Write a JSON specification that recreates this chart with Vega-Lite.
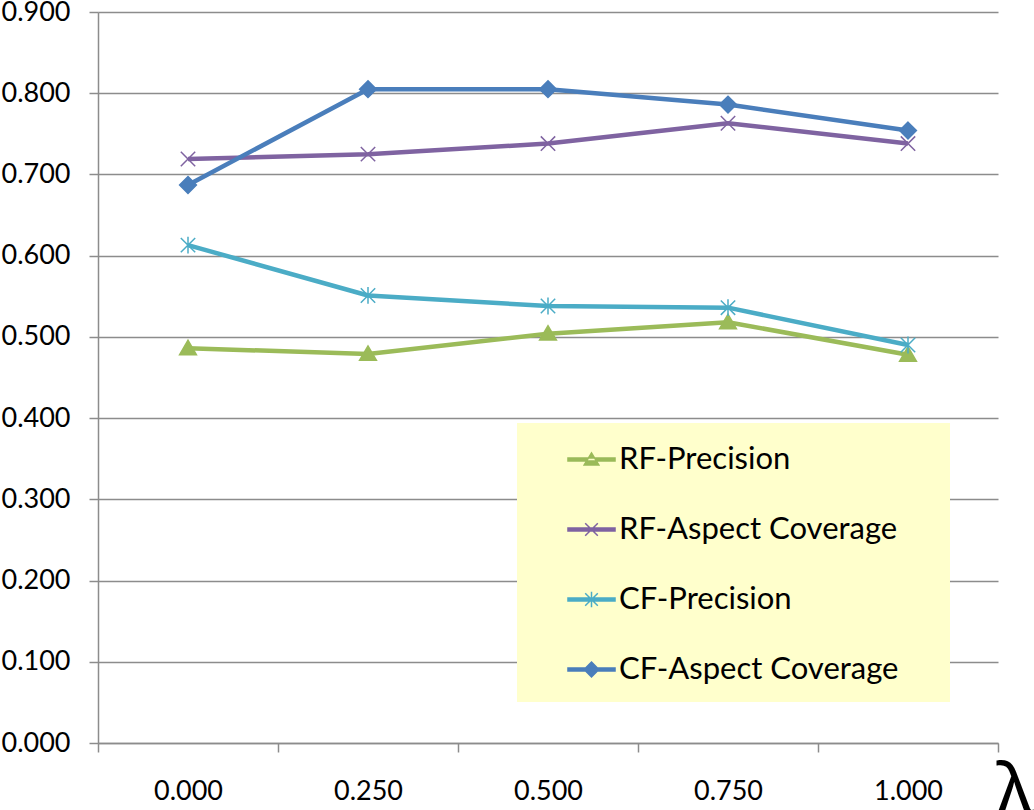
{
  "$schema": "https://vega.github.io/schema/vega-lite/v6.json",
  "width": 900,
  "height": 731,
  "autosize": {"type": "none"},
  "padding": {"left": 98, "top": 12, "right": 36, "bottom": 67},
  "background": "white",
  "config": {
    "view": {"stroke": null},
    "font": "Lato",
    "legend": {
      "title": null,
      "orient": "none",
      "legendX": 478,
      "legendY": 432,
      "direction": "vertical",
      "padding": 0,
      "labelFont": "Lato",
      "labelFontSize": 31,
      "labelColor": "black",
      "labelOffset": 12,
      "labelLimit": 400,
      "rowPadding": 38,
      "symbolSize": 196,
      "symbolStrokeWidth": 1.5,
      "symbolOpacity": 1
    }
  },
  "resolve": {"legend": {"color": "independent", "fill": "independent", "stroke": "independent", "shape": "independent"}},
  "data": {
    "values": [
      {"lambda": "0.000", "series": "RF-Precision", "value": 0.486},
      {"lambda": "0.250", "series": "RF-Precision", "value": 0.479},
      {"lambda": "0.500", "series": "RF-Precision", "value": 0.504},
      {"lambda": "0.750", "series": "RF-Precision", "value": 0.518},
      {"lambda": "1.000", "series": "RF-Precision", "value": 0.478},
      {"lambda": "0.000", "series": "RF-Aspect Coverage", "value": 0.719},
      {"lambda": "0.250", "series": "RF-Aspect Coverage", "value": 0.725},
      {"lambda": "0.500", "series": "RF-Aspect Coverage", "value": 0.738},
      {"lambda": "0.750", "series": "RF-Aspect Coverage", "value": 0.763},
      {"lambda": "1.000", "series": "RF-Aspect Coverage", "value": 0.738},
      {"lambda": "0.000", "series": "CF-Precision", "value": 0.613},
      {"lambda": "0.250", "series": "CF-Precision", "value": 0.551},
      {"lambda": "0.500", "series": "CF-Precision", "value": 0.538},
      {"lambda": "0.750", "series": "CF-Precision", "value": 0.536},
      {"lambda": "1.000", "series": "CF-Precision", "value": 0.490},
      {"lambda": "0.000", "series": "CF-Aspect Coverage", "value": 0.687},
      {"lambda": "0.250", "series": "CF-Aspect Coverage", "value": 0.805},
      {"lambda": "0.500", "series": "CF-Aspect Coverage", "value": 0.805},
      {"lambda": "0.750", "series": "CF-Aspect Coverage", "value": 0.786},
      {"lambda": "1.000", "series": "CF-Aspect Coverage", "value": 0.754}
    ]
  },
  "encoding": {
    "x": {
      "field": "lambda",
      "type": "ordinal",
      "sort": ["0.000", "0.250", "0.500", "0.750", "1.000"],
      "scale": {"paddingInner": 0, "paddingOuter": 0},
      "axis": {
        "title": "λ",
        "titleFont": "Noto Sans",
        "titleFontSize": 72,
        "titleFontWeight": "normal",
        "titleColor": "black",
        "titleX": 898,
        "titleY": 70,
        "titleAlign": "left",
        "titleBaseline": "alphabetic",
        "labelAngle": 0,
        "labelFont": "Lato",
        "labelFontSize": 27,
        "labelColor": "black",
        "labelPadding": 26,
        "tickBand": "extent",
        "tickSize": 9,
        "tickColor": "#8c8c8c",
        "tickWidth": 1.5,
        "domainColor": "#8c8c8c",
        "domainWidth": 1.5,
        "grid": false
      }
    },
    "y": {
      "field": "value",
      "type": "quantitative",
      "scale": {"domain": [0, 0.9], "nice": false},
      "axis": {
        "title": null,
        "values": [0, 0.1, 0.2, 0.3, 0.4, 0.5, 0.6, 0.7, 0.8, 0.9],
        "format": ".3f",
        "labelFont": "Lato",
        "labelFontSize": 27,
        "labelColor": "black",
        "labelPadding": 19,
        "tickSize": 9,
        "tickColor": "#8c8c8c",
        "tickWidth": 1.5,
        "domainColor": "#8c8c8c",
        "domainWidth": 1.5,
        "grid": true,
        "gridColor": "#8c8c8c",
        "gridWidth": 1.5
      }
    }
  },
  "layer": [
    {
      "mark": {"type": "rect", "fill": "#ffffcc"},
      "encoding": {
        "x": {"datum": "0.500", "bandPosition": 0.328},
        "x2": {"datum": "1.000", "bandPosition": 0.733},
        "y": {"datum": 0.394},
        "y2": {"datum": 0.0505}
      }
    },
    {
      "mark": {"type": "line", "strokeWidth": 4.5, "strokeJoin": "round"},
      "encoding": {
        "color": {
          "field": "series",
          "type": "nominal",
          "scale": {
            "domain": ["RF-Precision", "RF-Aspect Coverage", "CF-Precision", "CF-Aspect Coverage"],
            "range": ["#9bbb59", "#7f63a1", "#4bacc6", "#4a7ebb"]
          },
          "legend": null
        }
      }
    },
    {
      "mark": {"type": "point", "filled": true, "opacity": 1, "size": 256, "strokeWidth": 1.5},
      "encoding": {
        "color": {"field": "series", "type": "nominal", "legend": null},
        "stroke": {
          "field": "series",
          "type": "nominal",
          "scale": {
            "domain": ["RF-Precision", "RF-Aspect Coverage", "CF-Precision", "CF-Aspect Coverage"],
            "range": ["#9bbb59", "#7f63a1", "#4bacc6", "#4a7ebb"]
          },
          "legend": null
        },
        "shape": {
          "condition": [
            {"test": "datum.series === 'RF-Precision'", "value": "M-1.05,0.8L1.05,0.8L0,-1Z"},
            {"test": "datum.series === 'RF-Aspect Coverage'", "value": "M-0.9,-0.9L0.9,0.9M-0.9,0.9L0.9,-0.9"},
            {"test": "datum.series === 'CF-Precision'", "value": "M-0.9,-0.9L0.9,0.9M-0.9,0.9L0.9,-0.9M0,-1.05L0,1.05"}
          ],
          "value": "M0,-1.05L1.05,0L0,1.05L-1.05,0Z"
        }
      }
    },
    {
      "mark": {"type": "point", "filled": true, "opacity": 0, "size": 196, "strokeWidth": 1.5},
      "encoding": {
        "fill": {
          "field": "series",
          "type": "nominal",
          "scale": {
            "domain": ["RF-Precision", "RF-Aspect Coverage", "CF-Precision", "CF-Aspect Coverage"],
            "range": ["#9bbb59", "#7f63a1", "#4bacc6", "#4a7ebb"]
          }
        },
        "stroke": {"field": "series", "type": "nominal"},
        "shape": {
          "field": "series",
          "type": "nominal",
          "scale": {
            "domain": ["RF-Precision", "RF-Aspect Coverage", "CF-Precision", "CF-Aspect Coverage"],
            "range": [
              "M-3.36,-0.22L3.36,-0.22L3.36,0.22L-3.36,0.22ZM-1.05,0.8L1.05,0.8L0,-0.95Z",
              "M-3.36,-0.22L3.36,-0.22L3.36,0.22L-3.36,0.22ZM-0.9,-0.9L0.9,0.9M-0.9,0.9L0.9,-0.9",
              "M-3.36,-0.22L3.36,-0.22L3.36,0.22L-3.36,0.22ZM-0.9,-0.9L0.9,0.9M-0.9,0.9L0.9,-0.9M0,-1.1L0,1.1",
              "M-3.36,-0.22L3.36,-0.22L3.36,0.22L-3.36,0.22ZM0,-1.05L1.05,0L0,1.05L-1.05,0Z"
            ]
          }
        }
      }
    }
  ]
}
